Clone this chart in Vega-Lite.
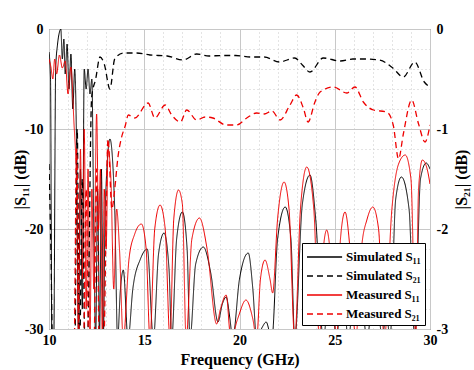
{
  "$schema": "https://vega.github.io/schema/vega-lite/v6.json",
  "width": 381,
  "height": 300,
  "autosize": {"type": "none"},
  "padding": {"left": 49, "top": 29, "right": 44, "bottom": 41},
  "background": "white",
  "config": {
    "view": {"stroke": "#444", "strokeWidth": 1},
    "font": "Liberation Serif",
    "axis": {
      "labelFont": "Liberation Serif", "labelFontWeight": "bold", "labelFontSize": 14, "labelColor": "#000",
      "titleFont": "Liberation Serif", "titleFontWeight": "bold", "titleFontSize": 16, "titleColor": "#000",
      "domain": false, "ticks": false, "labelOverlap": false, "labelFlush": false
    }
  },
  "datasets": {
    "s11": [
      {"s":"a","f":10.0,"v":-2.3},{"s":"a","f":10.08,"v":-5},{"s":"a","f":10.15,"v":-31},{"s":"a","f":10.25,"v":-31},{"s":"a","f":10.35,"v":-4},{"s":"a","f":10.45,"v":-1.5},{"s":"a","f":10.55,"v":-0.3},{"s":"a","f":10.62,"v":0},{"s":"a","f":10.7,"v":-3},{"s":"a","f":10.78,"v":-1.0},{"s":"a","f":10.85,"v":-4.5},{"s":"a","f":10.95,"v":-1.5},{"s":"a","f":11.05,"v":-6},{"s":"a","f":11.15,"v":-2.5},{"s":"a","f":11.25,"v":-8},{"s":"a","f":11.35,"v":-4},{"s":"a","f":11.45,"v":-12},{"s":"a","f":11.55,"v":-31},{"s":"a","f":11.65,"v":-14},{"s":"a","f":11.75,"v":-28},{"s":"a","f":11.85,"v":-4},{"s":"a","f":11.95,"v":-6},{"s":"a","f":12.05,"v":-4},{"s":"a","f":12.15,"v":-6.5},{"s":"a","f":12.25,"v":-5},{"s":"a","f":12.35,"v":-20},{"s":"a","f":12.45,"v":-31},{"s":"a","f":12.55,"v":-16},{"s":"a","f":12.65,"v":-31},{"s":"a","f":12.75,"v":-14},{"s":"a","f":12.85,"v":-31},{"s":"a","f":12.95,"v":-18},{"s":"a","f":13.2,"v":-11},{"s":"a","f":13.45,"v":-18},{"s":"a","f":13.6,"v":-31},{"s":"a","f":13.75,"v":-26},{"s":"a","f":13.9,"v":-24.1},{"s":"a","f":14.15,"v":-31},{"s":"a","f":14.4,"v":-26},{"s":"a","f":14.8,"v":-23},{"s":"a","f":15.16,"v":-22},{"s":"a","f":15.48,"v":-31},{"s":"a","f":15.75,"v":-22.5},{"s":"a","f":16.04,"v":-20.4},{"s":"a","f":16.3,"v":-24},{"s":"a","f":16.44,"v":-31},{"s":"a","f":16.7,"v":-21},{"s":"a","f":17.0,"v":-18.3},{"s":"a","f":17.25,"v":-22},{"s":"a","f":17.4,"v":-31},{"s":"a","f":17.7,"v":-23.5},{"s":"a","f":18.1,"v":-21.8},{"s":"a","f":18.5,"v":-24.5},{"s":"a","f":18.87,"v":-29.3},{"s":"a","f":19.1,"v":-27.5},{"s":"a","f":19.3,"v":-26.8},{"s":"a","f":19.5,"v":-29},{"s":"a","f":19.64,"v":-31},{"s":"a","f":20.0,"v":-25},{"s":"a","f":20.46,"v":-22.4},{"s":"a","f":20.7,"v":-26},{"s":"a","f":20.9,"v":-31},{"s":"a","f":21.2,"v":-29.8},{"s":"a","f":21.4,"v":-29.3},{"s":"a","f":21.6,"v":-30.5},{"s":"a","f":21.7,"v":-31},{"s":"a","f":22.0,"v":-21},{"s":"a","f":22.4,"v":-17.8},{"s":"a","f":22.7,"v":-21},{"s":"a","f":22.9,"v":-31},{"s":"a","f":23.3,"v":-17.5},{"s":"a","f":23.7,"v":-14.6},{"s":"a","f":24.0,"v":-19},{"s":"a","f":24.4,"v":-31},{"s":"a","f":24.75,"v":-25},{"s":"a","f":25.1,"v":-31},{"s":"a","f":25.4,"v":-24},{"s":"a","f":25.7,"v":-31},{"s":"a","f":26.2,"v":-22.5},{"s":"a","f":26.7,"v":-31},{"s":"a","f":27.1,"v":-24},{"s":"a","f":27.5,"v":-31},{"s":"a","f":27.7,"v":-28},{"s":"a","f":27.9,"v":-31},{"s":"a","f":28.2,"v":-17},{"s":"a","f":28.5,"v":-14.8},{"s":"a","f":28.9,"v":-18},{"s":"a","f":29.2,"v":-31},{"s":"a","f":29.5,"v":-15},{"s":"a","f":29.8,"v":-13.4},{"s":"a","f":30.0,"v":-14},
      {"s":"c","f":10.0,"v":-3.0},{"s":"c","f":10.1,"v":-3.8},{"s":"c","f":10.2,"v":-5.0},{"s":"c","f":10.3,"v":-3.0},{"s":"c","f":10.4,"v":-4.5},{"s":"c","f":10.55,"v":-2.6},{"s":"c","f":10.7,"v":-3.9},{"s":"c","f":10.85,"v":-3.2},{"s":"c","f":11.0,"v":-6.5},{"s":"c","f":11.15,"v":-3.8},{"s":"c","f":11.3,"v":-9},{"s":"c","f":11.45,"v":-16},{"s":"c","f":11.55,"v":-31},{"s":"c","f":11.65,"v":-12},{"s":"c","f":11.75,"v":-25},{"s":"c","f":11.85,"v":-10},{"s":"c","f":11.95,"v":-28},{"s":"c","f":12.05,"v":-14},{"s":"c","f":12.15,"v":-31},{"s":"c","f":12.25,"v":-16},{"s":"c","f":12.35,"v":-26},{"s":"c","f":12.5,"v":-8.5},{"s":"c","f":12.6,"v":-20},{"s":"c","f":12.7,"v":-14},{"s":"c","f":12.8,"v":-31},{"s":"c","f":12.9,"v":-16},{"s":"c","f":13.0,"v":-22},{"s":"c","f":13.1,"v":-12},{"s":"c","f":13.25,"v":-15},{"s":"c","f":13.4,"v":-26},{"s":"c","f":13.55,"v":-18},{"s":"c","f":13.7,"v":-22},{"s":"c","f":13.9,"v":-31},{"s":"c","f":14.2,"v":-23},{"s":"c","f":14.5,"v":-20.5},{"s":"c","f":14.85,"v":-19.5},{"s":"c","f":15.1,"v":-22},{"s":"c","f":15.3,"v":-31},{"s":"c","f":15.55,"v":-20},{"s":"c","f":15.83,"v":-17.6},{"s":"c","f":16.1,"v":-20},{"s":"c","f":16.35,"v":-31},{"s":"c","f":16.55,"v":-19},{"s":"c","f":16.8,"v":-16.1},{"s":"c","f":17.0,"v":-17.5},{"s":"c","f":17.2,"v":-31},{"s":"c","f":17.5,"v":-21},{"s":"c","f":17.9,"v":-18.9},{"s":"c","f":18.3,"v":-22},{"s":"c","f":18.8,"v":-29.5},{"s":"c","f":19.0,"v":-28},{"s":"c","f":19.3,"v":-26.6},{"s":"c","f":19.55,"v":-31},{"s":"c","f":19.9,"v":-29},{"s":"c","f":20.34,"v":-27.1},{"s":"c","f":20.7,"v":-29},{"s":"c","f":20.9,"v":-31},{"s":"c","f":21.1,"v":-25},{"s":"c","f":21.34,"v":-23.1},{"s":"c","f":21.6,"v":-25},{"s":"c","f":21.74,"v":-26.4},{"s":"c","f":22.0,"v":-19},{"s":"c","f":22.34,"v":-15.3},{"s":"c","f":22.6,"v":-18},{"s":"c","f":22.9,"v":-31},{"s":"c","f":23.2,"v":-18},{"s":"c","f":23.53,"v":-13.8},{"s":"c","f":23.9,"v":-18},{"s":"c","f":24.2,"v":-31},{"s":"c","f":24.4,"v":-22},{"s":"c","f":24.58,"v":-20.1},{"s":"c","f":24.8,"v":-23},{"s":"c","f":25.1,"v":-31},{"s":"c","f":25.3,"v":-21},{"s":"c","f":25.54,"v":-18.3},{"s":"c","f":25.8,"v":-22},{"s":"c","f":26.1,"v":-31},{"s":"c","f":26.4,"v":-22},{"s":"c","f":26.7,"v":-19},{"s":"c","f":27.0,"v":-17.8},{"s":"c","f":27.3,"v":-20},{"s":"c","f":27.6,"v":-31},{"s":"c","f":28.0,"v":-18},{"s":"c","f":28.35,"v":-13.5},{"s":"c","f":28.7,"v":-12.6},{"s":"c","f":29.0,"v":-15},{"s":"c","f":29.25,"v":-31},{"s":"c","f":29.4,"v":-16},{"s":"c","f":29.6,"v":-13.1},{"s":"c","f":29.85,"v":-14},{"s":"c","f":30.0,"v":-15.5}
    ],
    "s21": [
      {"s":"b","f":10.0,"v":-1.35},{"s":"b","f":10.1,"v":-2.2},{"s":"b","f":10.2,"v":-3.3},{"s":"b","f":10.6,"v":-3.5},{"s":"b","f":11.0,"v":-3.5},{"s":"b","f":11.35,"v":-3.3},{"s":"b","f":11.48,"v":-1.0},{"s":"b","f":11.6,"v":-3.3},{"s":"b","f":11.75,"v":-1.5},{"s":"b","f":11.9,"v":-3.3},{"s":"b","f":12.0,"v":-3.3},{"s":"b","f":12.24,"v":-0.68},{"s":"b","f":12.45,"v":-0.5},{"s":"b","f":12.68,"v":-0.28},{"s":"b","f":12.9,"v":-0.35},{"s":"b","f":13.2,"v":-0.6},{"s":"b","f":13.45,"v":-0.3},{"s":"b","f":13.9,"v":-0.24},{"s":"b","f":14.6,"v":-0.24},{"s":"b","f":15.3,"v":-0.26},{"s":"b","f":16.2,"v":-0.27},{"s":"b","f":17.05,"v":-0.31},{"s":"b","f":17.75,"v":-0.25},{"s":"b","f":18.4,"v":-0.27},{"s":"b","f":19.1,"v":-0.265},{"s":"b","f":19.8,"v":-0.265},{"s":"b","f":20.6,"v":-0.28},{"s":"b","f":21.3,"v":-0.28},{"s":"b","f":22.1,"v":-0.33},{"s":"b","f":22.9,"v":-0.29},{"s":"b","f":23.3,"v":-0.36},{"s":"b","f":23.7,"v":-0.43},{"s":"b","f":24.4,"v":-0.29},{"s":"b","f":25.3,"v":-0.32},{"s":"b","f":25.95,"v":-0.3},{"s":"b","f":26.65,"v":-0.3},{"s":"b","f":27.35,"v":-0.31},{"s":"b","f":28.05,"v":-0.39},{"s":"b","f":28.6,"v":-0.48},{"s":"b","f":29.2,"v":-0.33},{"s":"b","f":29.7,"v":-0.53},{"s":"b","f":30.0,"v":-0.58},
      {"s":"d","f":10.0,"v":-3.5},{"s":"d","f":11.3,"v":-3.5},{"s":"d","f":11.45,"v":-1.2},{"s":"d","f":11.6,"v":-3.3},{"s":"d","f":11.8,"v":-3.3},{"s":"d","f":11.95,"v":-1.6},{"s":"d","f":12.1,"v":-3.3},{"s":"d","f":12.35,"v":-3.3},{"s":"d","f":12.5,"v":-1.4},{"s":"d","f":12.65,"v":-3.3},{"s":"d","f":12.85,"v":-3.3},{"s":"d","f":13.1,"v":-1.1},{"s":"d","f":13.3,"v":-1.8},{"s":"d","f":13.45,"v":-1.6},{"s":"d","f":13.62,"v":-1.28},{"s":"d","f":13.8,"v":-1.09},{"s":"d","f":14.0,"v":-0.97},{"s":"d","f":14.16,"v":-0.86},{"s":"d","f":14.5,"v":-0.89},{"s":"d","f":15.2,"v":-0.74},{"s":"d","f":15.56,"v":-0.89},{"s":"d","f":16.1,"v":-0.76},{"s":"d","f":16.44,"v":-0.86},{"s":"d","f":16.9,"v":-0.93},{"s":"d","f":17.23,"v":-0.81},{"s":"d","f":17.75,"v":-0.91},{"s":"d","f":18.2,"v":-0.88},{"s":"d","f":18.6,"v":-0.89},{"s":"d","f":19.3,"v":-0.96},{"s":"d","f":19.85,"v":-0.96},{"s":"d","f":20.38,"v":-0.89},{"s":"d","f":20.9,"v":-0.84},{"s":"d","f":21.3,"v":-0.85},{"s":"d","f":21.7,"v":-0.82},{"s":"d","f":22.13,"v":-0.91},{"s":"d","f":22.65,"v":-0.76},{"s":"d","f":23.0,"v":-0.66},{"s":"d","f":23.35,"v":-0.79},{"s":"d","f":23.6,"v":-0.93},{"s":"d","f":23.96,"v":-0.73},{"s":"d","f":24.23,"v":-0.63},{"s":"d","f":24.93,"v":-0.58},{"s":"d","f":25.63,"v":-0.64},{"s":"d","f":26.06,"v":-0.58},{"s":"d","f":26.5,"v":-0.73},{"s":"d","f":27.03,"v":-0.81},{"s":"d","f":27.73,"v":-0.83},{"s":"d","f":28.07,"v":-0.96},{"s":"d","f":28.35,"v":-1.3},{"s":"d","f":28.6,"v":-1.05},{"s":"d","f":29.04,"v":-0.71},{"s":"d","f":29.4,"v":-0.95},{"s":"d","f":29.74,"v":-1.13},{"s":"d","f":30.0,"v":-0.96}
    ]
  },
  "layer": [
    {
      "data": {"name": "s11"},
      "mark": {"type": "line", "clip": true, "strokeWidth": 1, "interpolate": "monotone"},
      "encoding": {
        "x": {"field": "f", "type": "quantitative", "scale": {"domain": [10, 30], "nice": false},
          "axis": {"orient": "bottom", "values": [10, 15, 20, 25, 30],
            "labelExpr": "'' + datum.value",
            "labelOverlap": false, "labelFlush": false,
            "grid": true, "gridColor": "#c8c8c8",
            "labelPadding": 4, "title": "Frequency  (GHz)", "titlePadding": 4}},
        "y": {"field": "v", "type": "quantitative", "scale": {"domain": [-30, 0], "nice": false},
          "axis": {"orient": "left", "values": [-30,-28,-26,-24,-22,-20,-18,-16,-14,-12,-10,-8,-6,-4,-2,0],
            "labelExpr": "datum.value % 10 === 0 ? '' + datum.value : ''",
            "labelOverlap": false, "labelFlush": false,
            "grid": true, "gridColor": "#c8c8c8",
            "gridDash": {"condition": {"test": "datum.value % 10 === 0", "value": []}, "value": [1, 3]},
            "labelPadding": 6, "title": "|S₁₁|  (dB)", "titlePadding": -4}},
        "color": {"field": "s", "type": "nominal",
          "scale": {"domain": ["a", "b", "c", "d"], "range": ["#000000", "#000000", "#ee0000", "#ee0000"]},
          "legend": {"orient": "none", "legendX": 253, "legendY": 214, "title": null,
            "strokeColor": "#000", "fillColor": "#ffffff", "padding": 4,
            "labelExpr": "datum.label === 'a' ? 'Simulated S₁₁' : datum.label === 'b' ? 'Simulated S₂₁' : datum.label === 'c' ? 'Measured S₁₁' : 'Measured S₂₁'",
            "labelFont": "Liberation Serif", "labelFontWeight": "bold", "labelFontSize": 13, "labelColor": "#000",
            "symbolType": "M-1,0H2.9", "symbolSize": 324, "symbolStrokeWidth": 1.3, "rowPadding": 2, "labelOffset": 20}},
        "strokeDash": {"field": "s", "type": "nominal",
          "scale": {"domain": ["a", "b", "c", "d"], "range": [[1, 0], [6, 4], [1, 0], [6, 4]]},
          "legend": {"orient": "none", "legendX": 253, "legendY": 214, "title": null,
            "strokeColor": "#000", "fillColor": "#ffffff", "padding": 4,
            "labelExpr": "datum.label === 'a' ? 'Simulated S₁₁' : datum.label === 'b' ? 'Simulated S₂₁' : datum.label === 'c' ? 'Measured S₁₁' : 'Measured S₂₁'",
            "labelFont": "Liberation Serif", "labelFontWeight": "bold", "labelFontSize": 13, "labelColor": "#000",
            "symbolType": "M-1,0H2.9", "symbolSize": 324, "symbolStrokeWidth": 1.3, "rowPadding": 2, "labelOffset": 20}}
      }
    },
    {
      "data": {"name": "s21"},
      "mark": {"type": "line", "clip": true, "strokeWidth": 1.3, "interpolate": "monotone"},
      "encoding": {
        "x": {"field": "f", "type": "quantitative",
          "axis": {"orient": "top", "values": [11,12,13,14,16,17,18,19,21,22,23,24,26,27,28,29],
            "labels": false, "title": null, "grid": true, "gridColor": "#c8c8c8", "gridDash": [1, 3]}},
        "y": {"field": "v", "type": "quantitative", "scale": {"domain": [-3, 0], "nice": false},
          "axis": {"orient": "right", "values": [-3, -2, -1, 0], "labelExpr": "'' + datum.value",
            "labelOverlap": false, "labelFlush": false,
            "grid": false, "labelPadding": 6, "title": "|S₂₁|  (dB)", "titleAngle": -90, "titleBaseline": "top", "titlePadding": 6}},
        "color": {"field": "s", "type": "nominal"},
        "strokeDash": {"field": "s", "type": "nominal"}
      }
    }
  ],
  "resolve": {"scale": {"y": "independent"}}
}
